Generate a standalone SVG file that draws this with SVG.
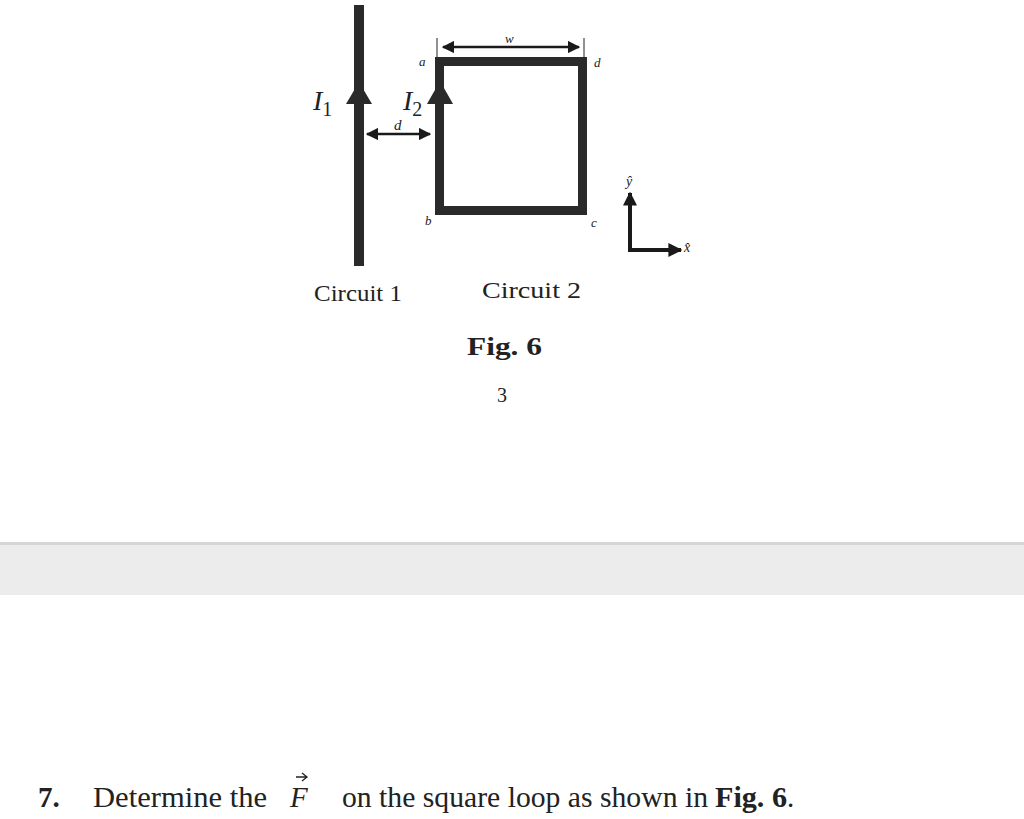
<svg xmlns="http://www.w3.org/2000/svg" width="1024" height="819" viewBox="0 0 1024 819">
<style>
.t{font-family:"Liberation Serif",serif;fill:#222}
.i{font-style:italic}
.w{stroke:#2a2a2a;fill:none}
.ah{fill:#2a2a2a}
</style>
<defs>
<marker id="m" viewBox="0 0 10 10" refX="9" refY="5" markerWidth="5" markerHeight="5" orient="auto-start-reverse"><path d="M0,0L10,5L0,10z" fill="#1a1a1a"/></marker>
<marker id="m2" viewBox="0 0 10 10" refX="9" refY="5" markerWidth="3.5" markerHeight="3.5" orient="auto"><path d="M0,0L10,5L0,10z" fill="#1a1a1a"/></marker>
</defs>
<rect width="1024" height="819" fill="#fff"/>
<g id="circuit1">
<line class="w" x1="359" y1="5" x2="359" y2="266" stroke-width="10"/>
<path class="ah" d="M359,82L372,104L346,104z"/>
<text class="t i" x="313" y="110" font-size="28">I<tspan font-size="20" font-style="normal" dy="6">1</tspan></text>
</g>
<g id="circuit2">
<rect class="w" x="439.5" y="61.5" width="143" height="149" stroke-width="9"/>
<path class="ah" d="M440,81L453,104L427,104z"/>
<text class="t i" x="403" y="110" font-size="28">I<tspan font-size="20" font-style="normal" dy="6">2</tspan></text>
<text class="t i" x="419" y="66" font-size="13">a</text>
<text class="t i" x="594" y="67" font-size="13">d</text>
<text class="t i" x="425" y="225" font-size="13">b</text>
<text class="t i" x="591" y="227" font-size="13">c</text>
</g>
<g id="connectors">
<line x1="437" y1="38" x2="437" y2="57" stroke="#222" stroke-width="1"/>
<line x1="584" y1="38" x2="584" y2="57" stroke="#222" stroke-width="1"/>
<line x1="443" y1="47" x2="579" y2="47" stroke="#1a1a1a" stroke-width="2.5" marker-start="url(#m)" marker-end="url(#m)"/>
<text class="t i" x="505" y="43" font-size="13">w</text>
<line x1="367" y1="134" x2="430" y2="134" stroke="#1a1a1a" stroke-width="2.5" marker-start="url(#m)" marker-end="url(#m)"/>
<text class="t i" x="394" y="130" font-size="15">d</text>
<line x1="628" y1="250" x2="681" y2="250" stroke="#1a1a1a" stroke-width="4" marker-end="url(#m2)"/>
<line x1="630" y1="252" x2="630" y2="193" stroke="#1a1a1a" stroke-width="4" marker-end="url(#m2)"/>
<text class="t i" x="626" y="186" font-size="14">ŷ</text>
<text class="t i" x="684" y="252" font-size="14">x̂</text>
</g>
<text class="t" x="314" y="301" font-size="24" textLength="88" lengthAdjust="spacingAndGlyphs">Circuit 1</text>
<text class="t" x="482" y="298" font-size="24" textLength="99" lengthAdjust="spacingAndGlyphs">Circuit 2</text>
<text class="t" x="467" y="355" font-size="26" font-weight="bold" textLength="75" lengthAdjust="spacingAndGlyphs">Fig. 6</text>
<text class="t" x="497" y="402" font-size="20">3</text>
<rect x="0" y="543" width="1024" height="52" fill="#ececec"/>
<rect x="0" y="542" width="1024" height="3" fill="#d6d6d6"/>
<g font-size="29">
<text class="t" x="38" y="807" font-weight="bold">7.</text>
<text class="t" x="93" y="807" textLength="174" lengthAdjust="spacingAndGlyphs">Determine the</text>
<text class="t i" x="290" y="807">F</text>
<text class="t" x="342" y="807" textLength="366" lengthAdjust="spacingAndGlyphs">on the square loop as shown in</text>
<text class="t" x="715" y="807" font-weight="bold" textLength="72" lengthAdjust="spacingAndGlyphs">Fig. 6</text>
<text class="t" x="787" y="807">.</text>
</g>
<path d="M296,777L306,777M302,773L307,777L302,781" stroke="#222" stroke-width="1.3" fill="none"/>
</svg>
